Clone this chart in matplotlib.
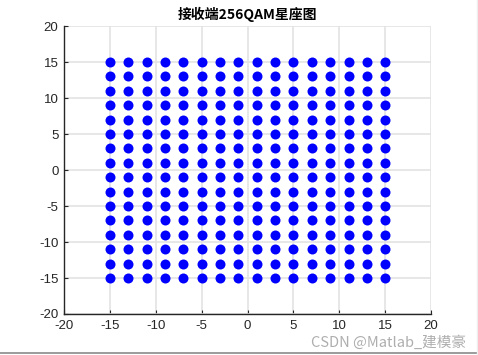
import matplotlib.pyplot as plt
from matplotlib.lines import Line2D

plt.rcParams['font.family'] = ['Noto Sans CJK SC', 'DejaVu Sans']

# 256QAM levels on each axis (I and Q)
levels = [-15, -13, -11, -9, -7, -5, -3, -1, 1, 3, 5, 7, 9, 11, 13, 15]
ticks = [-20, -15, -10, -5, 0, 5, 10, 15, 20]
title = '接收端256QAM星座图'

i_vals = [i for i in levels for q in levels]
q_vals = [q for i in levels for q in levels]

fig = plt.figure(figsize=(4.78, 3.55), dpi=100)
ax = fig.add_axes([0.134, 0.1155, 0.768, 0.811])

ax.plot(i_vals, q_vals, 'o', color='#0000ff', markersize=7.2, markeredgewidth=0)

ax.set_xlim(-20, 20)
ax.set_ylim(-20, 20)
ax.set_xticks(ticks)
ax.set_yticks(ticks)
ax.set_xticklabels([str(t) for t in ticks], fontfamily='Liberation Sans')
ax.set_yticklabels([str(t) for t in ticks], fontfamily='Liberation Sans')
ax.grid(True, color='#e3e3e3', linewidth=1.2)
ax.set_axisbelow(True)
ax.tick_params(direction='in', length=3, labelsize=9.5, colors='#262626', pad=4)
for s in ['top', 'right']:
    ax.spines[s].set_visible(False)
for s in ['left', 'bottom']:
    ax.spines[s].set_color('#262626')
    ax.spines[s].set_linewidth(1.0)

ax.set_title(title, fontsize=10, fontweight='bold', pad=5)

# watermark and screenshot borders
fig.text(0.975, 0.036, 'CSDN @Matlab_建模豪', ha='right', va='center',
         fontsize=10.5, color='#9a9a9a', alpha=0.8)
fig.add_artist(Line2D([0, 1], [0.006, 0.006], color='#8a8a8a', linewidth=1.2))
fig.add_artist(Line2D([0.998, 0.998], [0, 1], color='#eeeeee', linewidth=1))

fig.savefig('out.png', dpi=100)
